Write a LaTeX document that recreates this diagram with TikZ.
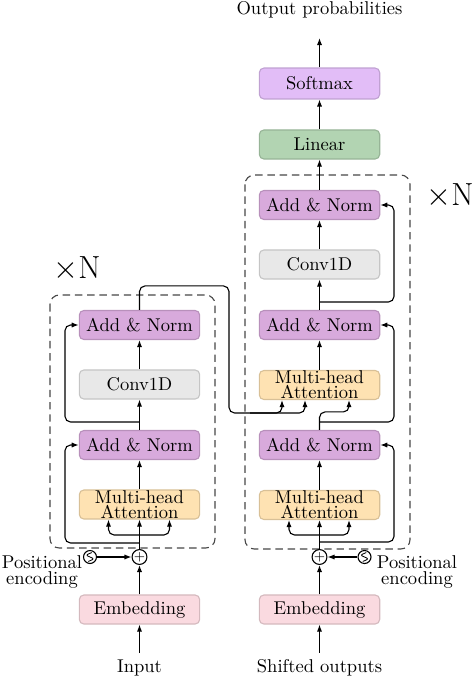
\documentclass[tikz,border=0pt]{standalone}
\usetikzlibrary{arrows.meta,calc}
\definecolor{normc}{RGB}{216,170,220}
\definecolor{convc}{RGB}{232,232,232}
\definecolor{attc}{RGB}{254,226,178}
\definecolor{embc}{RGB}{250,218,224}
\definecolor{softc}{RGB}{226,189,247}
\definecolor{linc}{RGB}{178,212,178}
\tikzset{
  arr/.style={-{Latex[length=3.8pt,width=2.8pt]}},
  blk/.style={draw=#1!85!black, fill=#1, rounded corners=2.5pt,
    minimum width=65pt, minimum height=15.7pt, inner sep=1pt},
  attn/.style={blk=attc, align=center, inner ysep=0pt},
  sumc/.style={circle, draw, minimum size=8pt, inner sep=0pt, font=\scriptsize},
  sinc/.style={circle, draw, minimum size=7pt, inner sep=0pt,
    path picture={\draw[line width=0.45pt, shift={(path picture bounding box.center)}]
      plot[domain=-1.2:1.2, smooth, samples=15] ({-1.6pt*sin(\x*180)},{2pt*\x});}},
  repbox/.style={draw=black!72, line width=0.6pt, dash pattern=on 4pt off 2.6pt, rounded corners=5pt},
}
\begin{document}
\begin{tikzpicture}[x=0.54pt,y=-0.54pt,line width=0.6pt]
  \useasboundingbox (0,0) rectangle (474,680);
  % repeated blocks
  \draw[repbox] (50,295) rectangle (215,548);
  \draw[repbox] (245,175) rectangle (410,549);
  \node at (77,269) {\LARGE $\times$N};
  \node at (450,196) {\LARGE $\times$N};
  % encoder
  \node (eIn) at (139.5,668) {Input};
  \node[blk=embc] (eEmb) at (139.5,609.5) {Embedding};
  \node[sumc] (ePlus) at (139.5,557) {$+$};
  \node[sinc] (eS) at (90,557) {};
  \node[align=center] at (42,572) {Positional\\[-3.8pt]encoding};
  \node[attn] (eMHA) at (139.5,504.5) {Multi-head\\[-3.8pt]Attention};
  \node[blk=normc] (eAN2) at (139.5,445) {Add \& Norm};
  \node[blk=convc] (eConv) at (139.5,384.5) {Conv1D};
  \node[blk=normc] (eAN1) at (139.5,325) {Add \& Norm};
  \coordinate (eR1) at (139.5,543);
  \coordinate (eQ1) at (139.5,535);
  \coordinate (eR2) at (139.5,422);
  \coordinate (eTurn) at (250,413);
  \draw[arr] (eIn) -- (eEmb);
  \draw[arr] (eEmb) -- (ePlus);
  \draw[arr] (eS) -- (ePlus);
  \draw[arr] (ePlus) -- (eMHA);
  \draw[arr,rounded corners=3pt] (eQ1) -| ($(eMHA.south)+(-31,0)$);
  \draw[arr,rounded corners=3pt] (eQ1) -| ($(eMHA.south)+(30,0)$);
  \draw[arr,rounded corners=3pt] (eR1) -- ++(-74.5,0) |- (eAN2.west);
  \draw[arr] (eMHA) -- (eAN2);
  \draw[arr] (eAN2) -- (eConv);
  \draw[arr,rounded corners=3pt] (eR2) -- ++(-74.5,0) |- (eAN1.west);
  \draw[arr] (eConv) -- (eAN1);
  % decoder
  \node (dIn) at (319.5,668) {Shifted outputs};
  \node[blk=embc] (dEmb) at (319.5,609.5) {Embedding};
  \node[sumc] (dPlus) at (319.5,557) {$+$};
  \node[sinc] (dS) at (364.5,557) {};
  \node[align=center] at (417,572) {Positional\\[-3.8pt]encoding};
  \node[attn] (dMHA1) at (319.5,505) {Multi-head\\[-3.8pt]Attention};
  \node[blk=normc] (dAN3) at (319.5,445) {Add \& Norm};
  \node[attn] (dMHA2) at (319.5,385) {Multi-head\\[-3.8pt]Attention};
  \node[blk=normc] (dAN2) at (319.5,325) {Add \& Norm};
  \node[blk=convc] (dConv) at (319.5,264.5) {Conv1D};
  \node[blk=normc] (dAN1) at (319.5,205) {Add \& Norm};
  \node[blk=linc] (lin) at (319.5,144.5) {Linear};
  \node[blk=softc, minimum height=16.7pt] (soft) at (319.5,83.5) {Softmax};
  \node (pOut) at (319.5,9.5) {Output probabilities};
  \coordinate (pEnd) at (319.5,38);
  \coordinate (dR1) at (319.5,542);
  \coordinate (dQ1) at (319.5,535);
  \coordinate (dR2) at (319.5,422);
  \coordinate (dR3) at (319.5,302);
  \draw[arr] (dIn) -- (dEmb);
  \draw[arr] (dEmb) -- (dPlus);
  \draw[arr] (dS) -- (dPlus);
  \draw[arr] (dPlus) -- (dMHA1);
  \draw[arr,rounded corners=3pt] (dQ1) -| ($(dMHA1.south)+(-30.5,0)$);
  \draw[arr,rounded corners=3pt] (dQ1) -| ($(dMHA1.south)+(29.5,0)$);
  \draw[arr,rounded corners=3pt] (dR1) -- ++(74.5,0) |- (dAN3.east);
  \draw[arr] (dMHA1) -- (dAN3);
  \draw[arr,rounded corners=3pt] (dR2) -- ++(74.5,0) |- (dAN2.east);
  \draw[arr,rounded corners=3pt] (dAN3.north) -- ++(0,-18) -| ($(dMHA2.south)+(29.5,0)$);
  \draw[arr] (dMHA2) -- (dAN2);
  \draw[arr] (dAN2) -- (dConv);
  \draw[arr,rounded corners=3pt] (dR3) -- ++(74.5,0) |- (dAN1.east);
  \draw[arr] (dConv) -- (dAN1);
  \draw[arr] (dAN1) -- (lin);
  \draw[arr] (lin) -- (soft);
  \draw[arr] (soft) -- (pEnd);
  % encoder output into decoder
  \draw[arr,rounded corners=3pt] (eAN1.north) -- ++(0,-24) -| (229,413) -| ($(dMHA2.south)+(-37.5,0)$);
  \draw[arr,rounded corners=3pt] (eTurn) -| ($(dMHA2.south)+(-14.5,0)$);
\end{tikzpicture}
\end{document}
